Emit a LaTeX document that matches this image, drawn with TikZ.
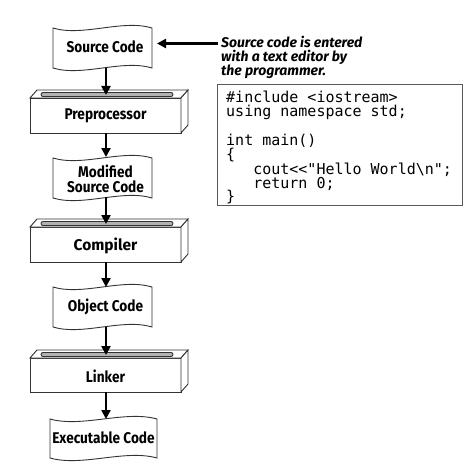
\documentclass[tikz,border=0pt]{standalone}
\usepackage{fontspec}
\newfontfamily\lblfont[FakeStretch=0.88]{Fira Sans}
\newfontfamily\widefont{Fira Sans}
\newfontfamily\codefont{DejaVu Sans Mono}
\usetikzlibrary{arrows.meta}

\tikzset{
  outline/.style={draw=black!80, line width=0.9pt, fill=white},
  flow/.style={line width=2.6pt, -{Triangle[length=9pt,width=9pt]}},
  lbl/.style={font=\lblfont\bfseries\fontsize{15.5}{15}\selectfont, align=center, inner sep=0pt},
  widelbl/.style={lbl, font=\widefont\bfseries\fontsize{15.5}{15}\selectfont},
  note/.style={font=\widefont\bfseries\itshape\fontsize{14}{13.7}\selectfont, align=left, inner sep=0pt},
  codetext/.style={font=\codefont\fontsize{15}{13.7}\selectfont, align=left, inner sep=0pt},
  codebox/.style={draw=black!65, line width=1pt, inner sep=0pt},
  pics/docpage/.style args={#1/#2}{code={
    \draw[outline] (0,0) .. controls ({0.3*#1},9) and ({0.7*#1},-9) .. (#1,0)
      -- (#1,#2) .. controls ({0.7*#1},{#2-9}) and ({0.3*#1},{#2+9}) .. (0,#2) -- cycle;
  }},
  pics/slotbox/.style args={#1/#2}{code={
    \draw[outline] (0,0) rectangle (#1,#2);
    \draw[outline] (0,0) -- (7,-8) -- ({#1+7},-8) -- (#1,0) -- cycle;
    \draw[outline] (#1,0) -- ({#1+7},-8) -- ({#1+7},{#2-8}) -- (#1,#2) -- cycle;
    \draw[outline, fill=black!30, rounded corners=2pt] (11,-5.5) rectangle ({#1-8},-1.5);
  }},
}

\begin{document}
\begin{tikzpicture}[x=1pt, y=-1pt]
\useasboundingbox (0,0) rectangle (474,476);
% pipeline shapes
	\pic at (53,28) {docpage=99/40};
	\node[lbl] (src) at (105,47) {Source Code};
	\pic at (30,98) {slotbox=151/35};
	\node[lbl] (pre) at (105.5,116) {Preprocessor};
	\pic at (53,158) {docpage=99/40};
	\node[lbl] (mod) at (105.5,178.5) {Modified\\Source Code};
	\pic at (30,227) {slotbox=151/35};
	\node[widelbl] (comp) at (105.5,245.5) {Compiler};
	\pic at (53,287) {docpage=99/40};
	\node[lbl] (obj) at (105.5,307) {Object Code};
	\pic at (30,358) {slotbox=151/34};
	\node[lbl] (lnk) at (105.5,376.5) {Linker};
	\pic at (50,419) {docpage=107/39};
	\node[lbl] (exe) at (103.5,438) {Executable Code};

% arrow ends
	\coordinate (src-out) at (106,68);   \coordinate (pre-in) at (106,95);
	\coordinate (pre-out) at (106,133);  \coordinate (mod-in) at (106,157);
	\coordinate (mod-out) at (106,197);  \coordinate (comp-in) at (106,224);
	\coordinate (comp-out) at (106,262); \coordinate (obj-in) at (106,287);
	\coordinate (obj-out) at (106,327);  \coordinate (lnk-in) at (106,355);
	\coordinate (lnk-out) at (106,392);  \coordinate (exe-in) at (106,419);
	\draw[flow] (src-out) -- (pre-in);
	\draw[flow] (pre-out) -- (mod-in);
	\draw[flow] (mod-out) -- (comp-in);
	\draw[flow] (comp-out) -- (obj-in);
	\draw[flow] (obj-out) -- (lnk-in);
	\draw[flow] (lnk-out) -- (exe-in);

% side note
	\node[note, anchor=north west] (note) at (221,36)
		{Source code is entered\\with a text editor by\\the programmer.};
	\coordinate (note-tail) at (218,43.5);
	\coordinate (src-side) at (157,43.5);
	\draw[flow] (note-tail) -- (src-side);

% program listing
	\node[codebox, minimum width=245pt, minimum height=121pt, anchor=north west] (listing) at (217,84) {};
	\node[codetext, anchor=north west] (code) at (226,91)
		{\#include <iostream>\\
		using namespace std;\\[13.7pt]
		int main()\\
		\{\\
		~~~cout<{}<"Hello World\textbackslash n";\\
		~~~return 0;\\
		\}};
\end{tikzpicture}
\end{document}
